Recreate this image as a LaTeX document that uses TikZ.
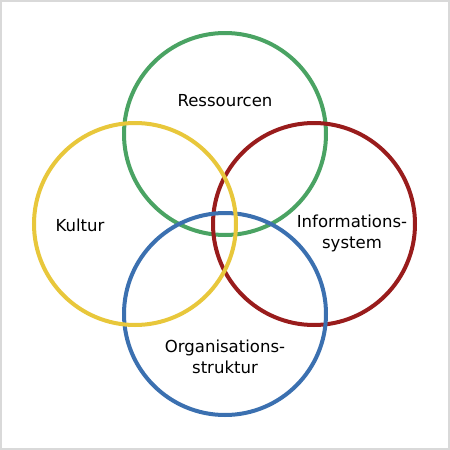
\documentclass[tikz,border=0pt]{standalone}
\usepackage{fontspec}
\setmainfont{DejaVu Sans}
\definecolor{cgreen}{rgb}{0.29, 0.64, 0.39}
\definecolor{cyellow}{rgb}{0.91, 0.78, 0.23}
\definecolor{cred}{rgb}{0.60, 0.11, 0.11}
\definecolor{cblue}{rgb}{0.23, 0.44, 0.69}
\definecolor{cframe}{rgb}{0.85, 0.85, 0.85}
\tikzset{
    ring/.style={circle, line width=3pt, minimum size=151.5pt, inner sep=0pt},
    label/.style={font=\fontsize{12.4}{15.8}\selectfont, align=center, text=black}
}

\begin{document}
\begin{tikzpicture}[x=0.75pt, y=-0.75pt]

% frame
\fill [white] (0, 0) rectangle (450, 450);
\draw [cframe, line width=1.5pt] (1, 1) rectangle (449, 449);

% circles
\node [ring, draw=cgreen] (res) at (225, 134) {};
\node [ring, draw=cred] (inf) at (314, 224) {};
\node [ring, draw=cblue] (org) at (225, 314) {};
\node [ring, draw=cyellow] (kul) at (135, 224) {};

% labels
\node [label] (tres) at (225, 101) {Ressourcen};
\node [label] (tkul) at (80, 225) {Kultur};
\node [label] (tinf) at (352, 233) {Informations-\\system};
\node [label] (torg) at (225, 357) {Organisations-\\struktur};

\end{tikzpicture}
\end{document}
